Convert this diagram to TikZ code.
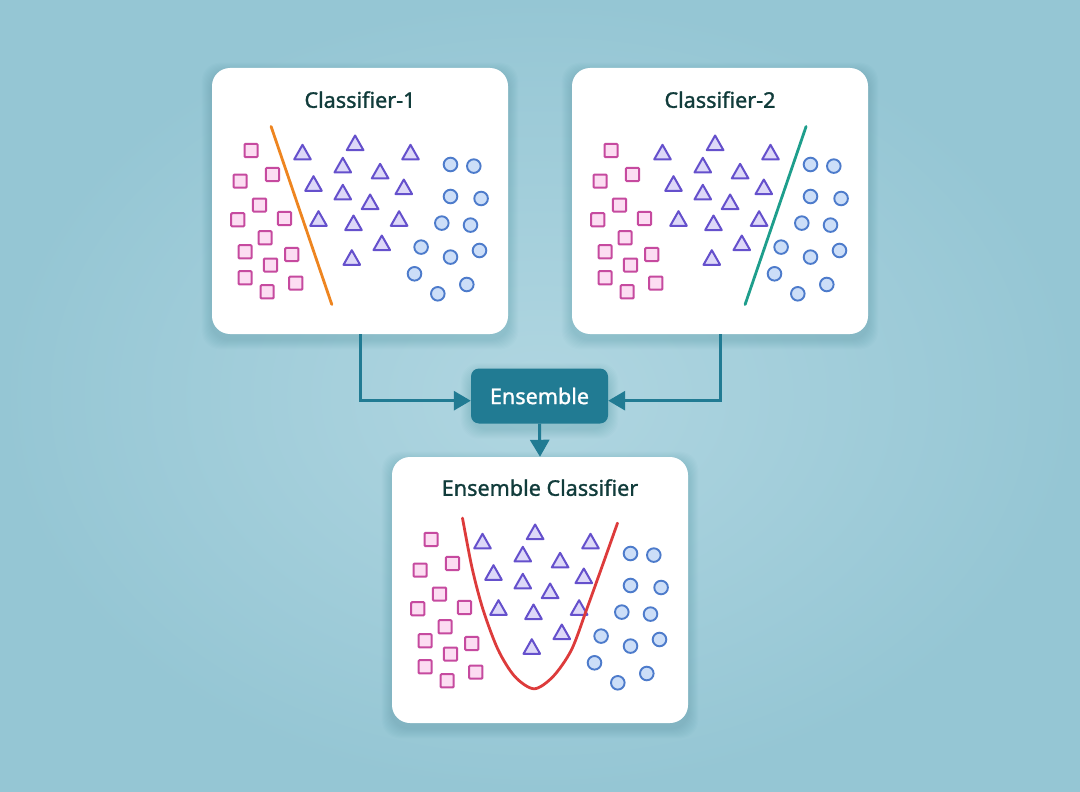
\documentclass[tikz,border=0pt]{standalone}
\usepackage{fontspec}
\setmainfont{Noto Sans}
\newfontfamily\ttlfont{Noto Sans}[FakeBold=1.2]
\usetikzlibrary{arrows.meta,calc}
\pgfdeclarelayer{bgl}
\pgfsetlayers{bgl,main}
\definecolor{bgin}{HTML}{B0D6E1}
\definecolor{bgout}{HTML}{95C6D4}
\definecolor{shadowc}{HTML}{2A6F80}
\definecolor{sqd}{HTML}{C64A9F}
\definecolor{sqf}{HTML}{FCDDF2}
\definecolor{trd}{HTML}{6550CC}
\definecolor{trf}{HTML}{DDD8F8}
\definecolor{cid}{HTML}{4D7BCB}
\definecolor{cif}{HTML}{CCDEF8}
\definecolor{orl}{HTML}{EE8520}
\definecolor{tel}{HTML}{1E9E8C}
\definecolor{rdl}{HTML}{DD3B3B}
\definecolor{ttl}{HTML}{113C3B}
\definecolor{ensf}{HTML}{217B93}
\tikzset{
  card/.style={draw=none, fill=white, rounded corners=18pt, minimum width=296pt, minimum height=266pt, inner sep=0pt},
  ttlstyle/.style={text=ttl, font=\ttlfont\fontsize{21.6}{24}\selectfont, inner sep=0pt, anchor=base},
  ensbox/.style={fill=ensf, text=white, rounded corners=8pt, minimum width=137pt, minimum height=55pt, inner sep=0pt, font=\ttlfont\fontsize{21.6}{24}\selectfont},
  conn/.style={draw=ensf, line width=3pt, -{Triangle[length=17pt,width=19pt]}},
  sepline/.style={line width=2.8pt, line cap=round},
  sqm/.pic={\draw[sqd, fill=sqf, line width=2pt, rounded corners=1pt] (-6.6,-6.6) rectangle (6.6,6.6);},
  trm/.pic={\draw[trd, fill=trf, line width=2pt, line join=round] (-8.3,6.3) -- (8.3,6.3) -- (0,-8.3) -- cycle;},
  cim/.pic={\draw[cid, fill=cif, line width=1.9pt] (0,0) circle[radius=6.8];}
}
\newcommand\mypoints{%
  \foreach \x/\y in {39.3/82.7, 28.3/113.3, 60.7/106.7, 47.7/137.3, 26/152, 72.7/150.7, 53.3/170, 33.3/184, 80/186.7, 58.7/197.3, 33.3/210, 84/215.3, 55.3/224}
    {\pic at (\x,\y) {sqm};}
  \foreach \x/\y in {90.7/85.3, 143.3/76, 198.7/85.3, 131/98.3, 168.3/104.3, 101.7/116.7, 131/125.3, 192/120, 158.3/135, 106.7/151.7, 141.7/156, 187.3/151.7, 170/176, 140/190.7}
    {\pic at (\x,\y) {trm};}
  \foreach \x/\y in {238.7/96.7, 262/98.3, 238.7/128.7, 269.3/130.7, 230/155.3, 258.7/157.3, 209.3/179.3, 238.7/189.3, 267.7/182.7, 202.7/206, 255/216.7, 226/226}
    {\pic at (\x,\y) {cim};}
}
\begin{document}
\begin{tikzpicture}[x=1pt,y=-1pt]
\begin{pgfonlayer}{bgl}
\shade[inner color=bgin, outer color=bgout] (0,0) rectangle (1080,792);
\end{pgfonlayer}
\useasboundingbox (0,0) rectangle (1080,792);
\node[card] (b1) at (360,201) {};
\node[card] (b2) at (720,201) {};
\node[card] (b3) at (540,590) {};
\node[ensbox] (ens) at (539.5,396) {Ensemble};
\begin{pgfonlayer}{bgl}
\foreach \n in {b1,b2,b3,ens}
  \foreach \i in {1,...,10}
    \fill[shadowc, opacity=0.018, rounded corners=18pt] ($(\n.south west)+(-\i,\i+5)$) rectangle ($(\n.north east)+(\i,-\i+5)$);
\end{pgfonlayer}
\node[ttlstyle] (t1) at ($(b1.north)+(0,40)$) {Classifier-1};
\node[ttlstyle] (t2) at ($(b2.north)+(0,40)$) {Classifier-2};
\node[ttlstyle] (t3) at ($(b3.north)+(0,39)$) {Ensemble Classifier};
\begin{scope}[shift={(b1.north west)}]
  \mypoints
  \draw[sepline, orl] (59.3,58.7) -- (120,236.7);
\end{scope}
\begin{scope}[shift={(b2.north west)}]
  \mypoints
  \draw[sepline, tel] (234.3,58.7) -- (173.3,236.7);
\end{scope}
\begin{scope}[shift={(b3.north west)}]
  \mypoints
  \draw[sepline, rdl] plot[smooth] coordinates {(70.7,61.3) (80.3,111.3) (91.3,153) (106.3,193) (123,219.7) (142.3,232) (161.3,219.7) (179.7,193) (194.7,153) (209.7,111.3) (225.7,66.3)};
\end{scope}
\draw[conn] (b1.south) |- ([yshift=-4.7pt]ens.west);
\draw[conn] (b2.south) |- ([yshift=-4.7pt]ens.east);
\draw[conn] (ens.south) -- (b3.north);
\end{tikzpicture}
\end{document}
